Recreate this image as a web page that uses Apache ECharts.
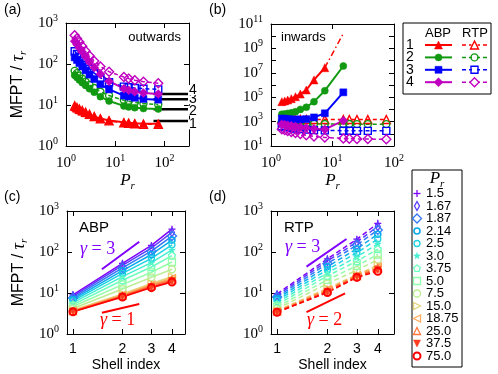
<!DOCTYPE html>
<html>
<head>
<meta charset="utf-8">
<script src="https://cdn.jsdelivr.net/npm/echarts@6/dist/echarts.min.js"></script>
<style>html,body{margin:0;padding:0;background:#fff}#main{width:498px;height:374px}</style>
</head>
<body>
<div id="main"></div>
<script>
// ---- data ----
const pr = [1.5, 1.67, 1.87, 2.14, 2.5, 3.0, 3.75, 5.0, 7.5, 15.0, 18.75, 25.0, 37.5, 75.0];
const prLabels = ['1.5', '1.67', '1.87', '2.14', '2.5', '3.0', '3.75', '5.0', '7.5', '15.0', '18.75', '25.0', '37.5', '75.0'];
const shells = [1, 2, 3, 4];

// outwards MFPT/tau_r (panel a), shells 1..4
const abpOut1 = [9.0, 8.3, 7.6, 7.0, 6.4, 5.8, 5.2, 4.7, 4.2, 3.8, 3.7, 3.6, 3.5, 3.5];
const abpOut2 = [53, 47, 41, 35, 30, 25, 20.5, 16, 12.5, 9.5, 9.0, 8.6, 8.2, 8.0];
const abpOut3 = [145, 125, 105, 87, 70, 55, 43, 32, 24, 17, 16, 15, 14, 13.5];
const abpOut4 = [360, 300, 245, 195, 150, 112, 82, 57, 38, 25, 23, 21, 19.5, 18.5];
const rtpOut1 = [9.5, 8.7, 8.0, 7.3, 6.6, 5.9, 5.2, 4.6, 4.1, 3.7, 3.6, 3.5, 3.4, 3.4];
const rtpOut2 = [68, 60, 52, 44, 37, 31, 26, 21, 17, 13, 12.3, 11.5, 10.8, 10.3];
const rtpOut3 = [205, 175, 148, 120, 96, 76, 60, 46, 36, 28, 27, 26, 25, 24];
const rtpOut4 = [500, 420, 345, 272, 208, 158, 118, 87, 65, 48, 44, 40, 37, 34];
// large-Pr limits (black bars, panel a)
const limPr = [60, 316.2];
const limVal = [4.1, 7.9, 13.8, 18.5];
const limLabels = ['1', '2', '3', '4'];

// inwards MFPT/tau_r (panel b)
const abpIn1 = [4.3e4, 4.9e4, 5.9e4, 7.6e4, 1.1e5, 1.8e5, 3.9e5, 2.6e6, 2.6e7];
const abpIn2 = [4.0e3, 4.2e3, 4.7e3, 5.2e3, 6.5e3, 1.0e4, 1.5e4, 4.3e4, 3.4e5, 3.6e7];
const abpIn3 = [1.8e3, 1.7e3, 1.6e3, 1.5e3, 1.5e3, 1.5e3, 1.6e3, 2.2e3, 4.8e3, 2.5e5];
const abpIn4 = [620, 560, 500, 450, 400, 350, 300, 260, 230, 1.2e3];
const rtpIn1 = [1.6e3, 1.6e3, 1.55e3, 1.55e3, 1.5e3, 1.5e3, 1.5e3, 1.5e3, 1.5e3, 1.5e3, 1.5e3, 1.5e3, 1.5e3, 1.5e3];
const rtpIn2 = [950, 900, 850, 800, 760, 720, 690, 660, 640, 630, 630, 620, 620, 620];
const rtpIn3 = [420, 380, 340, 300, 270, 240, 220, 200, 190, 180, 180, 175, 175, 175];
const rtpIn4 = [240, 200, 170, 140, 115, 95, 75, 60, 50, 42, 40, 38, 37, 36];
const fitPr = [7.5, 14.6];
const fitVal = [2.6e7, 1.3e10];

// slope guides (panels c, d)
const guideC3x = [1.5, 2.53], guideC3y = [38, 178];
const guideC1x = [1.5, 2.53], guideC1y = [3.3, 5.4];
const guideD3x = [1.5, 2.6], guideD3y = [44, 208];
const guideD2x = [1.5, 2.55], guideD2y = [3.4, 9.8];

// ticks
const decades3 = [1, 10, 100, 1000];
const decadesPr = [1, 10, 100];
const decadesIn = [1e1, 1e2, 1e3, 1e4, 1e5, 1e6, 1e7, 1e8, 1e9, 1e10, 1e11];
const decadesInLab = [1e1, 1e3, 1e5, 1e7, 1e9, 1e11];

// ---- styles ----
const RED = '#ff0000', GREEN = '#119911', BLUE = '#0000ff', MAG = '#c000c0';
const prColors = ['#8000ff', '#583dfd', '#3177f8', '#0aa9ee', '#1dd2e2', '#45eed2', '#6cfdbf',
  '#93fda9', '#baee91', '#e2d277', '#ffa95b', '#ff773d', '#ff3d1f', '#ff0000'];
const SHAPES = {
  diamond: [[5, 0], [10, 5], [5, 10], [0, 5]],
  square: [[0, 0], [10, 0], [10, 10], [0, 10]],
  triUp: [[5, 0], [10, 10], [0, 10]],
  triDown: [[0, 0], [10, 0], [5, 10]],
  triRight: [[0, 0], [10, 5], [0, 10]],
  triLeft: [[10, 0], [0, 5], [10, 10]],
  pentagon: [[5, 0], [9.76, 3.45], [7.94, 9.05], [2.06, 9.05], [0.24, 3.45]],
  star: [[5, 0], [6.23, 3.3], [9.76, 3.45], [7, 5.65], [7.94, 9.05], [5, 7.1], [2.06, 9.05], [3, 5.65], [0.24, 3.45], [3.77, 3.3]]
};
const prMarks = [
  {s: 'plus', w: 7, h: 7, fill: false, bw: 1.3},
  {s: 'diamond', w: 5, h: 9, fill: false, bw: 1.3},
  {s: 'diamond', w: 9, h: 9, fill: false, bw: 1.3},
  {s: 'circle', w: 6, h: 6, fill: false, bw: 1.6},
  {s: 'circle', w: 6, h: 6, fill: false, bw: 1.3},
  {s: 'star', w: 7, h: 7, fill: true, bw: 0.5},
  {s: 'pentagon', w: 7, h: 7, fill: false, bw: 1.3},
  {s: 'square', w: 7, h: 7, fill: false, bw: 1.3},
  {s: 'circle', w: 7, h: 7, fill: false, bw: 1.3},
  {s: 'triRight', w: 7, h: 7, fill: false, bw: 1.3},
  {s: 'triLeft', w: 7, h: 7, fill: false, bw: 1.3},
  {s: 'triUp', w: 7, h: 7, fill: false, bw: 1.3},
  {s: 'triDown', w: 7, h: 7, fill: true, bw: 0.5},
  {s: 'circle', w: 7, h: 7, fill: false, bw: 2}
];
const groups = [
  {c: RED, s: 'triUp', size: 8},
  {c: GREEN, s: 'circle', size: 7},
  {c: BLUE, s: 'square', size: 7},
  {c: MAG, s: 'diamond', size: 9}
];

function symbolOf(s) {
  if (s === 'circle') return 'circle';
  if (s === 'plus') return 'path://M0,5L10,5M5,0L5,10';
  return 'path://M' + SHAPES[s].map(p => p.join(',')).join('L') + 'Z';
}

const SANS = 'Liberation Sans', SERIF = 'Liberation Serif';
const powRich = {
  b: {fontFamily: SERIF, fontSize: 15, lineHeight: 20, color: '#000'},
  e: {fontFamily: SERIF, fontSize: 10, verticalAlign: 'top', color: '#000'}
};
function pow10(v) {
  return '{b|10}{e|' + Math.round(Math.log10(v)) + '}';
}
const nameMFPT = '{n|MFPT / }{t|τ}{s|r}';
const namePr = '{p|P}{s|r}';
const nameRich = {
  n: {fontFamily: SANS, fontSize: 16, lineHeight: 22, color: '#000'},
  t: {fontFamily: SERIF, fontStyle: 'italic', fontSize: 18, lineHeight: 22, color: '#000'},
  p: {fontFamily: SERIF, fontStyle: 'italic', fontSize: 17, lineHeight: 22, color: '#000'},
  s: {fontFamily: SERIF, fontStyle: 'italic', fontSize: 11, verticalAlign: 'bottom', color: '#000'}
};

const grids = [
  {left: 66, top: 23, width: 123, height: 123},
  {left: 271, top: 24, width: 123, height: 122},
  {left: 67, top: 211, width: 118, height: 123},
  {left: 271, top: 211, width: 123, height: 123}
];

function axisPair(gi, dim, cfg) {
  const base = {
    type: 'log', logBase: 10, gridIndex: gi, min: cfg.min, max: cfg.max,
    axisLine: {show: true, onZero: false, lineStyle: {color: '#000', width: 1}},
    axisTick: {show: true, inside: true, length: 5, customValues: cfg.ticks, lineStyle: {color: '#000', width: 1}},
    splitLine: {show: false},
    minorTick: {show: false}
  };
  const main = Object.assign({}, base, {
    position: dim === 'x' ? 'bottom' : 'left',
    axisLabel: {
      show: true, customValues: cfg.labels, formatter: cfg.fmt, rich: powRich,
      margin: cfg.margin, color: '#000', fontFamily: SANS, fontSize: 14
    },
    name: cfg.name, nameLocation: 'middle', nameGap: cfg.nameGap,
    nameRotate: dim === 'y' ? 90 : 0,
    nameTextStyle: cfg.nameStyle || {rich: nameRich}
  });
  const mirror = Object.assign({}, base, {
    position: dim === 'x' ? 'top' : 'right',
    axisLabel: {show: false}
  });
  return [main, mirror];
}

const shellName = {fontFamily: SANS, fontSize: 14, color: '#000'};
const shellFmt = v => String(Math.round(v));
const xAxis = [].concat(
  axisPair(0, 'x', {min: 1, max: 316.2, ticks: decadesPr, labels: decadesPr, fmt: pow10, margin: 7, name: namePr, nameGap: 24}),
  axisPair(1, 'x', {min: 1, max: 100, ticks: decadesPr, labels: decadesPr, fmt: pow10, margin: 7, name: namePr, nameGap: 24}),
  axisPair(2, 'x', {min: 0.92, max: 4.8, ticks: shells, labels: shells, fmt: shellFmt, margin: 8, name: 'Shell index', nameGap: 24, nameStyle: shellName}),
  axisPair(3, 'x', {min: 0.92, max: 5.0, ticks: shells, labels: shells, fmt: shellFmt, margin: 8, name: 'Shell index', nameGap: 24, nameStyle: shellName})
);
const yAxis = [].concat(
  axisPair(0, 'y', {min: 1, max: 1000, ticks: decades3, labels: decades3, fmt: pow10, margin: 8, name: nameMFPT, nameGap: 37}),
  axisPair(1, 'y', {min: 10, max: 1e11, ticks: decadesIn, labels: decadesInLab, fmt: pow10, margin: 8, name: '', nameGap: 0}),
  axisPair(2, 'y', {min: 1, max: 1000, ticks: decades3, labels: decades3, fmt: pow10, margin: 8, name: nameMFPT, nameGap: 37}),
  axisPair(3, 'y', {min: 1, max: 1000, ticks: decades3, labels: decades3, fmt: pow10, margin: 8, name: '', nameGap: 0})
);

function pts(xs, ys) {
  return ys.map((y, i) => [xs[i], y]).filter(d => d[1] != null);
}
function lineSeries(gi, xs, ys, o) {
  return {
    type: 'line', xAxisIndex: gi * 2, yAxisIndex: gi * 2,
    data: pts(xs, ys),
    symbol: o.sym ? symbolOf(o.sym) : 'none',
    symbolSize: o.size || 7,
    showAllSymbol: true,
    lineStyle: {color: o.color, width: o.lw || 1.5, type: o.dash || 'solid'},
    itemStyle: {
      color: o.fill ? o.color : 'rgba(255,255,255,0)',
      borderColor: o.color, borderWidth: o.bw != null ? o.bw : (o.fill ? 0.5 : 1.4)
    },
    z: o.z || 2,
    silent: true
  };
}

const series = [];
// panel (a)
const abpOut = [abpOut1, abpOut2, abpOut3, abpOut4];
const rtpOut = [rtpOut1, rtpOut2, rtpOut3, rtpOut4];
limVal.forEach(v => {
  series.push(lineSeries(0, limPr, [v, v], {color: '#000', lw: 2.5, z: 1}));
});
groups.forEach((g, k) => {
  series.push(lineSeries(0, pr, rtpOut[k], {color: g.c, sym: g.s, size: g.size, fill: false, dash: [4, 3]}));
  series.push(lineSeries(0, pr, abpOut[k], {color: g.c, sym: g.s, size: g.size, fill: true, lw: 2}));
});
// panel (b)
const abpIn = [abpIn1, abpIn2, abpIn3, abpIn4];
const rtpIn = [rtpIn1, rtpIn2, rtpIn3, rtpIn4];
groups.forEach((g, k) => {
  series.push(lineSeries(1, pr, rtpIn[k], {color: g.c, sym: g.s, size: g.size, fill: false, dash: [4, 3]}));
});
series.push(lineSeries(1, fitPr, fitVal, {color: RED, lw: 1.5, dash: [6, 3, 1.5, 3]}));
groups.forEach((g, k) => {
  series.push(lineSeries(1, pr, abpIn[k], {color: g.c, sym: g.s, size: g.size, fill: true, lw: 2}));
});
// panels (c), (d)
pr.forEach((p, i) => {
  const m = prMarks[i];
  const common = {color: prColors[i], sym: m.s, size: [m.w, m.h], fill: m.fill, bw: m.bw, lw: 1.5};
  series.push(lineSeries(2, shells, abpOut.map(a => a[i]), common));
  series.push(lineSeries(3, shells, rtpOut.map(a => a[i]), Object.assign({}, common, {dash: [5, 3]})));
});
series.push(lineSeries(2, guideC3x, guideC3y, {color: '#8000ff', lw: 2}));
series.push(lineSeries(2, guideC1x, guideC1y, {color: RED, lw: 2}));
series.push(lineSeries(3, guideD3x, guideD3y, {color: '#8000ff', lw: 2}));
series.push(lineSeries(3, guideD2x, guideD2y, {color: RED, lw: 2}));

// ---- legends & annotations (graphic) ----
function legendMark(s, cx, cy, w, h, color, fill, bw) {
  const style = {fill: fill ? color : 'none', stroke: color, lineWidth: bw};
  if (s === 'circle') return [{type: 'circle', shape: {cx, cy, r: w / 2}, style, z: 100}];
  if (s === 'plus') return [
    {type: 'line', shape: {x1: cx - w / 2, y1: cy, x2: cx + w / 2, y2: cy}, style, z: 100},
    {type: 'line', shape: {x1: cx, y1: cy - h / 2, x2: cx, y2: cy + h / 2}, style, z: 100}
  ];
  return [{type: 'polygon', shape: {points: SHAPES[s].map(p => [cx + (p[0] - 5) * w / 10, cy + (p[1] - 5) * h / 10])}, style, z: 100}];
}
function txt(x, y, text, font, extra) {
  return {type: 'text', x, y, z: 100, style: Object.assign({text, font, fill: '#000', textVerticalAlign: 'middle'}, extra || {})};
}

const graphic = [];
graphic.push(txt(4, 10, '(a)', '14px ' + SANS));
graphic.push(txt(209, 10, '(b)', '14px ' + SANS));
graphic.push(txt(4, 197, '(c)', '14px ' + SANS));
graphic.push(txt(209, 197, '(d)', '14px ' + SANS));
graphic.push(txt(181, 37, 'outwards', '13px ' + SANS, {textAlign: 'right'}));
graphic.push(txt(281, 37, 'inwards', '13px ' + SANS));
graphic.push(txt(79, 228, 'ABP', '15px ' + SANS));
graphic.push(txt(284, 228, 'RTP', '15px ' + SANS));
const gRich = {
  g: {fontFamily: SERIF, fontStyle: 'italic', fontSize: 18},
  t: {fontFamily: SERIF, fontSize: 18}
};
graphic.push({type: 'text', x: 80, y: 249, z: 100, style: {text: '{g|γ}{t| = 3}', rich: gRich, fill: '#8000ff', textVerticalAlign: 'middle'}});
graphic.push({type: 'text', x: 100, y: 320, z: 100, style: {text: '{g|γ}{t| = 1}', rich: gRich, fill: RED, textVerticalAlign: 'middle'}});
graphic.push({type: 'text', x: 285, y: 247, z: 100, style: {text: '{g|γ}{t| = 3}', rich: gRich, fill: '#8000ff', textVerticalAlign: 'middle'}});
graphic.push({type: 'text', x: 307, y: 320, z: 100, style: {text: '{g|γ}{t| = 2}', rich: gRich, fill: RED, textVerticalAlign: 'middle'}});

// top-right legend
graphic.push({type: 'rect', shape: {x: 403, y: 23, width: 88, height: 71}, style: {fill: '#fff', stroke: '#000', lineWidth: 1}, z: 90});
graphic.push(txt(438, 33, 'ABP', '13px ' + SANS, {textAlign: 'center'}));
graphic.push(txt(475, 33, 'RTP', '13px ' + SANS, {textAlign: 'center'}));
groups.forEach((g, k) => {
  const y = 45 + k * 12.4;
  graphic.push(txt(410, y, String(k + 1), '14px ' + SANS, {textAlign: 'center'}));
  graphic.push({type: 'line', shape: {x1: 425, y1: y, x2: 452, y2: y}, style: {stroke: g.c, lineWidth: 2}, z: 100});
  graphic.push({type: 'line', shape: {x1: 462, y1: y, x2: 488, y2: y}, style: {stroke: g.c, lineWidth: 1.5, lineDash: [4, 3]}, z: 100});
  legendMark(g.s, 438.5, y, g.size, g.size, g.c, true, 0.5).forEach(e => graphic.push(e));
  legendMark(g.s, 474.5, y, g.size, g.size, g.c, false, 1.4).forEach(e => { e.z = 101; graphic.push(e); });
  graphic.push({type: 'rect', shape: {x: 474.5 - g.size / 2 + 1, y: y - g.size / 2 + 2, width: g.size - 2, height: g.size - 3}, style: {fill: '#fff'}, z: 100.5});
});

// Pr legend
graphic.push({type: 'rect', shape: {x: 412, y: 170, width: 50, height: 197}, style: {fill: '#fff', stroke: '#000', lineWidth: 1}, z: 90});
graphic.push({type: 'text', x: 437, y: 179, z: 100, style: {text: '{p|P}{s|r}', rich: nameRich, textAlign: 'center', textVerticalAlign: 'middle'}});
prLabels.forEach((lab, i) => {
  const y = 193.5 + i * 12.5;
  const m = prMarks[i];
  legendMark(m.s, 417, y, m.w, m.h, prColors[i], m.fill, m.bw).forEach(e => graphic.push(e));
  graphic.push(txt(426, y, lab, '13px ' + SANS));
});

const chart = echarts.init(document.getElementById('main'), null, {renderer: 'canvas'});
chart.setOption({
  animation: false,
  backgroundColor: '#fff',
  grid: grids,
  xAxis: xAxis,
  yAxis: yAxis,
  series: series,
  graphic: graphic
});

// shell labels at the right end of the black limit bars, placed through the axis scales
const limShift = [3.5, 1.5, 0, -4];
const limText = limVal.map((v, k) => {
  const p = chart.convertToPixel({xAxisIndex: 0, yAxisIndex: 0}, [limPr[1], v]);
  return {
    type: 'text', x: p[0] - 1, y: p[1] + limShift[k], z: 110 + k,
    style: {
      text: limLabels[k], font: '14px ' + SANS, fill: '#000', textVerticalAlign: 'middle',
      lineHeight: 10, backgroundColor: '#fff', padding: [0, 1]
    }
  };
});
chart.setOption({graphic: graphic.concat(limText)});
</script>
</body>
</html>
